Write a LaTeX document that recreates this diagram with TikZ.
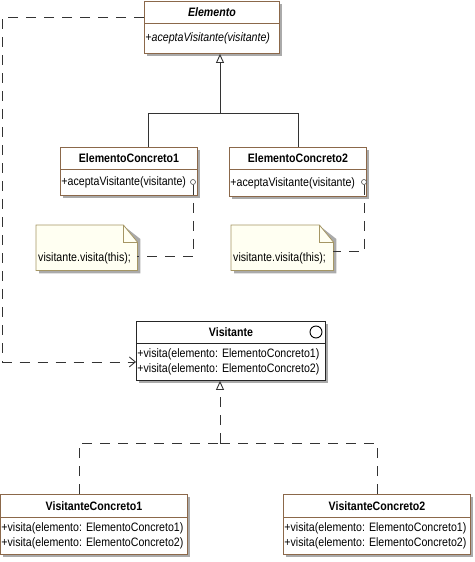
\documentclass[tikz,border=0pt]{standalone}
\usepackage{fontspec}
\setmainfont[FakeStretch=0.87]{Liberation Sans}
\usepackage{xcolor}
\usepackage{tikz}
\usetikzlibrary{
    positioning,
    arrows.meta,
    shadows,
    backgrounds,
    calc
}
\frenchspacing
\definecolor{classbrown}{RGB}{139,104,74}
\definecolor{notetan}{RGB}{165,150,100}
\definecolor{notepaper}{RGB}{255,255,242}
\definecolor{shadowgray}{RGB}{170,170,170}
\newcommand{\umlfont}{\fontsize{12.2}{15.5}\selectfont}
\tikzset{
    umlshadow/.style={
        drop shadow={shadow xshift=3pt, shadow yshift=-3pt, fill=shadowgray, opacity=1}
    },
    classtitle/.style={
        rectangle, draw=classbrown, line width=0.9pt, fill=white,
        inner sep=0pt, anchor=north west, font=\umlfont\bfseries, umlshadow
    },
    classops/.style={
        rectangle, draw=classbrown, line width=0.9pt, fill=white,
        inner xsep=1pt, inner ysep=0pt, anchor=north west,
        align=left, font=\umlfont, umlshadow
    },
    notebox/.style={
        rectangle, inner sep=2pt, anchor=north west, align=left,
        text height=34pt, text depth=7pt, font=\umlfont
    },
    portcircle/.style={
        circle, draw=black!70, fill=white, line width=0.6pt, minimum size=5pt, inner sep=0pt
    },
    iconcircle/.style={
        circle, draw=black, fill=white, line width=0.9pt, minimum size=12pt, inner sep=0pt
    },
    generalize/.style={
        line width=0.9pt, draw=black!80
    },
    realize/.style={
        line width=0.9pt, draw=black!80, dash pattern=on 10pt off 8pt
    },
    notelink/.style={
        line width=0.9pt, draw=black!80, dash pattern=on 10pt off 8pt
    },
    dependency/.style={
        line width=0.9pt, draw=black!80, dash pattern=on 10pt off 8pt,
        -{Straight Barb[length=6pt, width=10pt]}
    },
    inherittip/.style={
        -{Triangle[open, length=9pt, width=8pt]}
    }
}

\begin{document}
\begin{tikzpicture}[x=1pt, y=-1pt]
    \useasboundingbox (0,0) rectangle (474,562);

    % element hierarchy
    \node[classtitle, minimum width=135pt, minimum height=22pt] (elem) at (144,1) {\textit{Elemento}};
    \node[classops, text width=133pt, minimum height=30pt] (elem-ops) at (144,23) {\textit{+aceptaVisitante(visitante)}};

    \node[classtitle, minimum width=137pt, minimum height=22pt] (ec1) at (60,147) {ElementoConcreto1};
    \node[classops, text width=135pt, minimum height=26pt] (ec1-ops) at (60,169) {+aceptaVisitante(visitante)};
    \node[portcircle] (ec1-port) at (193,182) {};

    \node[classtitle, minimum width=137pt, minimum height=22pt] (ec2) at (229,147) {ElementoConcreto2};
    \node[classops, text width=135pt, minimum height=27pt] (ec2-ops) at (229,169) {+aceptaVisitante(visitante)};
    \node[portcircle] (ec2-port) at (364,182) {};

    % notes
    \node[notebox, text width=97pt] (note1) at (36,225) {visitante.visita(this);};
    \node[notebox, text width=98pt] (note2) at (231,225) {visitante.visita(this);};

    \begin{scope}[on background layer]
        \foreach \n in {note1, note2} {
            \fill[shadowgray] ([shift={(3pt,-3pt)}]\n.north west) -- ([shift={(-11pt,-3pt)}]\n.north east)
                -- ([shift={(3pt,-14pt)}]\n.north east) -- ([shift={(3pt,-3pt)}]\n.south east)
                -- ([shift={(3pt,-3pt)}]\n.south west) -- cycle;
            \filldraw[draw=notetan, fill=notepaper, line width=0.8pt] (\n.north west) -- ([xshift=-14pt]\n.north east)
                -- ([yshift=-17pt]\n.north east) -- (\n.south east) -- (\n.south west) -- cycle;
            \draw[notetan, line width=0.8pt] ([xshift=-14pt]\n.north east) |- ([yshift=-17pt]\n.north east);
        }
    \end{scope}

    % visitor hierarchy
    \node[classtitle, draw=black!85, minimum width=189pt, minimum height=22pt] (vis) at (136,321) {Visitante};
    \node[classops, draw=black!85, text width=187pt, minimum height=37pt] (vis-ops) at (136,343) {+visita(elemento: ElementoConcreto1)\\+visita(elemento: ElementoConcreto2)};
    \node[iconcircle] (vis-icon) at (316,332) {};

    \node[classtitle, minimum width=187pt, minimum height=23pt] (vc1) at (0,494) {VisitanteConcreto1};
    \node[classops, text width=185pt, minimum height=37pt] (vc1-ops) at (0,517) {+visita(elemento: ElementoConcreto1)\\+visita(elemento: ElementoConcreto2)};

    \node[classtitle, minimum width=187pt, minimum height=23pt] (vc2) at (283,494) {VisitanteConcreto2};
    \node[classops, text width=185pt, minimum height=37pt] (vc2-ops) at (283,517) {+visita(elemento: ElementoConcreto1)\\+visita(elemento: ElementoConcreto2)};

    % connectors
    \coordinate (elem-join) at (220,113);
    \draw[generalize] ([xshift=19.5pt]ec1.north) |- (elem-join);
    \draw[generalize] (ec2.north) |- (elem-join);
    \draw[generalize, inherittip] (elem-join) -- (elem-join |- elem-ops.south);

    \draw[notelink] (ec1-port.south) |- ([yshift=-9pt]note1.east);
    \draw[notelink] (ec2-port.south) |- ([yshift=-4pt]note2.east);

    \coordinate (loop-corner) at (2,0);
    \draw[dependency] ([yshift=-5pt]elem.west) -| (loop-corner |- vis-ops.west) -- (vis-ops.west);

    \coordinate (vis-join) at (220,443);
    \draw[realize] ([xshift=-14.5pt]vc1.north) |- (vis-join);
    \draw[realize] (vc2.north) |- (vis-join);
    \draw[realize, inherittip] (vis-join) -- (vis-join |- vis-ops.south);

\end{tikzpicture}
\end{document}
